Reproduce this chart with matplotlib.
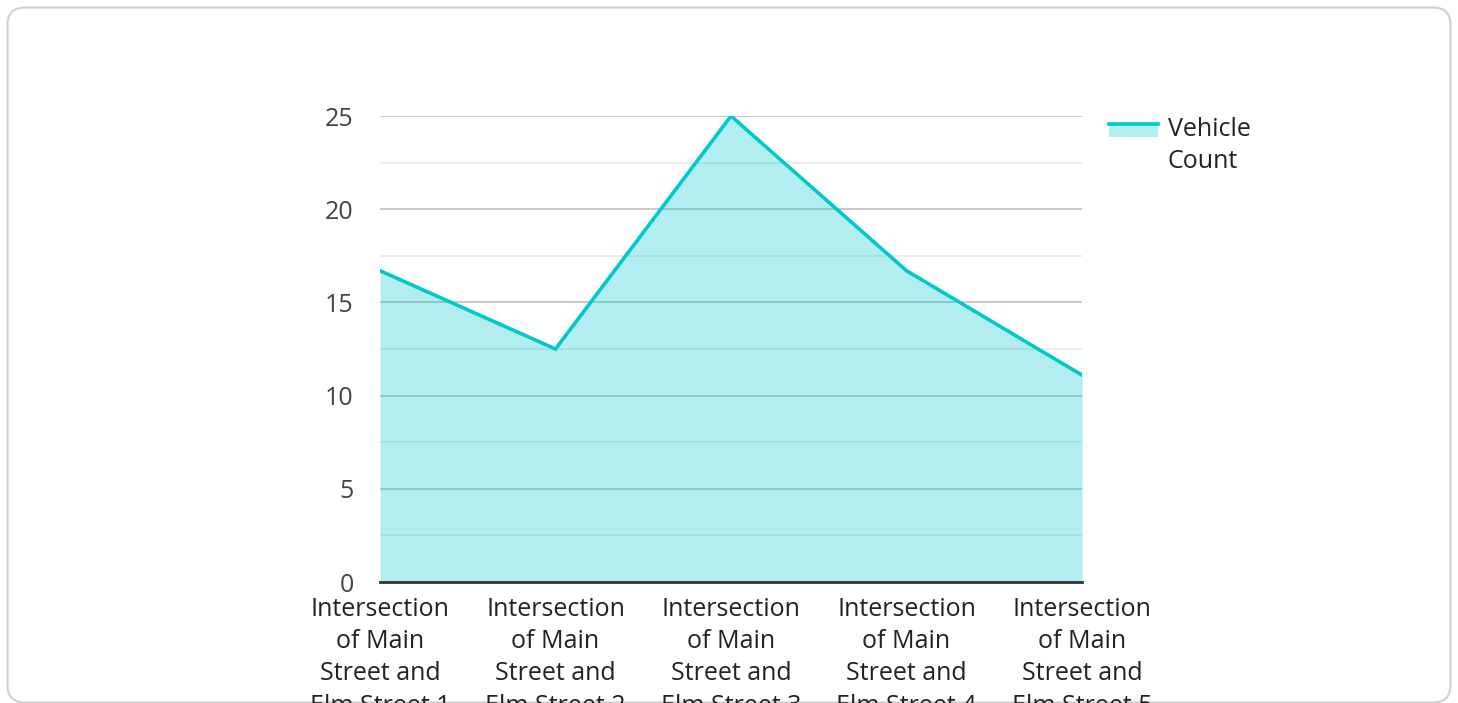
import matplotlib
matplotlib.use("Agg")
import matplotlib.pyplot as plt
from matplotlib.patches import FancyBboxPatch, Rectangle
from matplotlib.lines import Line2D
from matplotlib.legend_handler import HandlerBase

plt.rcParams['font.family'] = ['Open Sans', 'DejaVu Sans']

# data
categories = ["Intersection\nof Main\nStreet and\nElm Street 1",
              "Intersection\nof Main\nStreet and\nElm Street 2",
              "Intersection\nof Main\nStreet and\nElm Street 3",
              "Intersection\nof Main\nStreet and\nElm Street 4",
              "Intersection\nof Main\nStreet and\nElm Street 5"]
vehicle_count = [16.7, 12.5, 25, 16.7, 11.1]
series_name = "Vehicle\nCount"
y_ticks = [0, 5, 10, 15, 20, 25]

line_col = "#00c9cc"
fill_col = "#b2efef"
text_col = "#444444"
fs = 18

W, H = 1458, 703
fig = plt.figure(figsize=(W / 100, H / 100), dpi=100)

# card background
card = FancyBboxPatch((7.5 / W, 0.5 / H), (W - 15) / W, (H - 8) / H,
                      boxstyle="round,pad=0,rounding_size=0.012",
                      transform=fig.transFigure, facecolor="white",
                      edgecolor="#d0d0d0", linewidth=1.5, mutation_aspect=W / H,
                      zorder=-5)
fig.patches.append(card)

ax = fig.add_axes([380 / W, (H - 582) / H, (1082 - 380) / W, (582 - 116) / H])
ax.set_facecolor("none")

x = list(range(len(categories)))
ax.fill_between(x, vehicle_count, 0, color=line_col, alpha=0.3, lw=0, zorder=2)
ax.plot(x, vehicle_count, color=line_col, lw=2.6, zorder=3, solid_joinstyle="miter")

ax.set_xlim(0, len(categories) - 1)
ax.set_ylim(0, 25)
ax.set_yticks(y_ticks)
ax.set_yticks([2.5, 7.5, 12.5, 17.5, 22.5], minor=True)
ax.grid(axis="y", which="major", color="#c4c4c4", lw=1.3, zorder=1)
ax.grid(axis="y", which="minor", color="#ebebeb", lw=1.3, zorder=1)
ax.set_axisbelow(True)

for s in ["top", "right", "left"]:
    ax.spines[s].set_visible(False)
ax.spines["bottom"].set_color("#333333")
ax.spines["bottom"].set_linewidth(2)
ax.spines["bottom"].set_zorder(4)

ax.tick_params(axis="y", which="both", length=0, pad=19, labelsize=fs, labelcolor=text_col)
ax.tick_params(axis="x", length=0, pad=10.5, labelsize=fs, labelcolor="#222222")
ax.set_xticks(x)
ax.set_xticklabels(categories, linespacing=1.39)
ax.set_yticklabels([str(v) for v in y_ticks])


class AreaHandler(HandlerBase):
    def create_artists(self, legend, orig_handle, xdescent, ydescent,
                       width, height, fontsize, trans):
        top = height + fontsize * 0.55
        r = Rectangle((-xdescent, top - 9.4), width, 9.4, facecolor=fill_col,
                      edgecolor="none", transform=trans)
        l = Line2D([-xdescent, -xdescent + width], [top, top], color=line_col,
                   lw=2.6, transform=trans)
        return [r, l]


handle = Rectangle((0, 0), 1, 1)
leg = ax.legend([handle], [series_name], handler_map={Rectangle: AreaHandler()},
                loc="upper left", bbox_to_anchor=(1104 / W, (H - 112) / H),
                bbox_transform=fig.transFigure, frameon=False, fontsize=fs,
                handlelength=1.95, handletextpad=0.4, borderaxespad=0, borderpad=0.2)
for t in leg.get_texts():
    t.set_color("#222222")
    t.set_linespacing(1.39)

fig.savefig("out.png", dpi=100)
